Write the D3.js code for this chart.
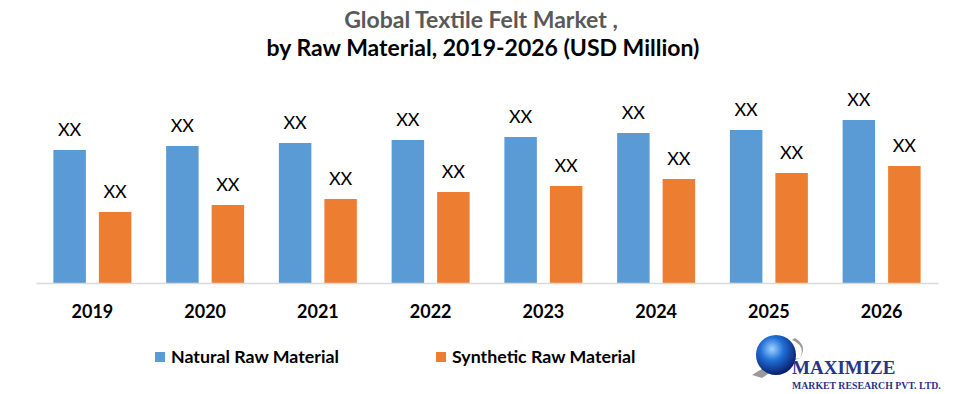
<!DOCTYPE html>
<html>
<head>
<meta charset="utf-8">
<script src="https://cdn.jsdelivr.net/npm/d3@7"></script>
<style>
  body { margin: 0; background: #fff; }
  svg { display: block; font-family: Lato, "Open Sans", sans-serif; }
</style>
</head>
<body>
<div id="chart"></div>
<script>
const years = ["2019", "2020", "2021", "2022", "2023", "2024", "2025", "2026"];
const series = ["Natural Raw Material", "Synthetic Raw Material"];
const natural = [133, 137, 140, 143, 146, 150, 153, 163];
const synthetic = [71, 78, 84, 91, 97, 104, 110, 117];
const valueLabels = ["XX", "XX", "XX", "XX", "XX", "XX", "XX", "XX"];
const colors = ["#5B9BD5", "#ED7D31"];

const width = 958,
  height = 394;

const svg = d3
  .select("#chart")
  .append("svg")
  .attr("width", width)
  .attr("height", height);

// title
const title = svg
  .append("text")
  .attr("text-anchor", "middle")
  .attr("font-weight", "bold")
  .attr("font-size", 23);
title
  .append("tspan")
  .attr("x", 481)
  .attr("y", 28)
  .attr("fill", "#595959")
  .text("Global Textile Felt Market ,");
title
  .append("tspan")
  .attr("x", 483)
  .attr("y", 56)
  .attr("fill", "#000")
  .text("by Raw Material, 2019-2026 (USD Million)");

const x0 = d3.scaleBand().domain(years).range([36, 938]).padding(0);

const x1 = d3
  .scaleBand()
  .domain(series)
  .range([0, x0.bandwidth()])
  .paddingInner(0.286)
  .paddingOuter(0.382);

const y = d3.scaleLinear().domain([0, 180]).range([283, 103]);

const rows = years.map((yr, i) => ({
  year: yr,
  vals: [
    { s: series[0], v: natural[i], c: colors[0], label: valueLabels[i] },
    { s: series[1], v: synthetic[i], c: colors[1], label: valueLabels[i] },
  ],
}));

const groups = svg
  .selectAll("g.year")
  .data(rows)
  .enter()
  .append("g")
  .attr("class", "year")
  .attr("transform", (d) => `translate(${x0(d.year)},0)`);

groups
  .selectAll("rect")
  .data((d) => d.vals)
  .enter()
  .append("rect")
  .attr("x", (d) => x1(d.s))
  .attr("y", (d) => y(d.v))
  .attr("width", x1.bandwidth())
  .attr("height", (d) => y(0) - y(d.v))
  .attr("fill", (d) => d.c);

groups
  .selectAll("text.val")
  .data((d) => d.vals)
  .enter()
  .append("text")
  .attr("class", "val")
  .attr("x", (d) => x1(d.s) + x1.bandwidth() / 2)
  .attr("y", (d) => y(d.v) - 14)
  .attr("text-anchor", "middle")
  .attr("font-size", 18)
  .attr("fill", "#000")
  .text((d) => d.label);

// x axis
const xAxis = svg
  .append("g")
  .attr("transform", `translate(0,${y(0)})`)
  .call(d3.axisBottom(x0).tickSize(0).tickPadding(22));
xAxis.select(".domain").attr("stroke", "#d9d9d9").attr("stroke-width", 1.5);
xAxis
  .selectAll("text")
  .attr("font-family", "Lato, 'Open Sans', sans-serif")
  .attr("font-size", 18)
  .attr("font-weight", "bold")
  .attr("fill", "#000");

// legend
const legendX = [155, 436];
const legend = svg
  .selectAll("g.legend")
  .data(series)
  .enter()
  .append("g")
  .attr("class", "legend")
  .attr("transform", (d, i) => `translate(${legendX[i]},352)`);
legend
  .append("rect")
  .attr("width", 10)
  .attr("height", 10)
  .attr("fill", (d, i) => colors[i]);
legend
  .append("text")
  .attr("x", 16)
  .attr("y", 11)
  .attr("font-size", 17.8)
  .attr("font-weight", "bold")
  .attr("fill", "#000")
  .text((d) => d);

// logo
const logo = svg.append("g");
const grad = svg
  .append("defs")
  .append("radialGradient")
  .attr("id", "globe")
  .attr("cx", "40%")
  .attr("cy", "35%")
  .attr("r", "65%");
grad.append("stop").attr("offset", "0%").attr("stop-color", "#9fd3ff");
grad.append("stop").attr("offset", "45%").attr("stop-color", "#1f6fd6");
grad.append("stop").attr("offset", "100%").attr("stop-color", "#0a1f6e");
logo
  .append("path")
  .attr("d", "M752,375 Q770,362 800,358 Q782,364 762,378 Z")
  .attr("fill", "#9a9a9a");
logo
  .append("path")
  .attr("d", "M795,338 Q808,346 800,358 Q806,346 792,340 Z")
  .attr("fill", "#9a9a9a");
logo
  .append("circle")
  .attr("cx", 776)
  .attr("cy", 355)
  .attr("r", 20)
  .attr("fill", "url(#globe)");
logo
  .append("text")
  .attr("x", 792)
  .attr("y", 374)
  .attr("font-family", "'Liberation Serif', 'DejaVu Serif', serif")
  .attr("font-size", 19)
  .attr("font-weight", "bold")
  .attr("fill", "#27348b")
  .text("MAXIMIZE");
logo
  .append("text")
  .attr("x", 792)
  .attr("y", 389)
  .attr("font-family", "'Liberation Serif', 'DejaVu Serif', serif")
  .attr("font-size", 9.8)
  .attr("font-weight", "bold")
  .attr("fill", "#27348b")
  .text("MARKET RESEARCH PVT. LTD.");
</script>
</body>
</html>
